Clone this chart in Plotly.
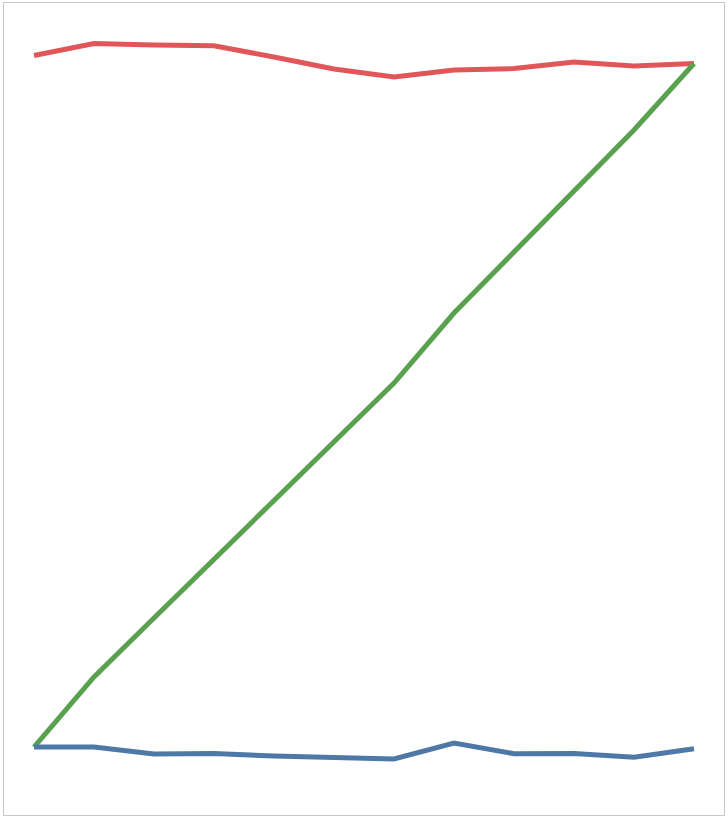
import plotly.graph_objects as go

# twelve evenly spaced periods, no labels shown in the reference
periods = list(range(12))

upper = [93.53, 95.01, 94.83, 94.74, 93.35, 91.87, 90.89, 91.75, 91.93, 92.73, 92.24, 92.55]
lower = [8.37, 8.37, 7.51, 7.57, 7.27, 7.08, 6.90, 8.87, 7.55, 7.57, 7.11, 8.17]
cumulative = [8.37, 17.0, 24.26, 31.53, 38.67, 45.94, 53.2, 61.82, 69.33, 76.85, 84.36, 92.55]

fig = go.Figure()
fig.add_trace(go.Scatter(x=periods, y=upper, mode="lines",
                         line=dict(color="#e15759", width=5)))
fig.add_trace(go.Scatter(x=periods, y=cumulative, mode="lines",
                         line=dict(color="#59a14f", width=5)))
fig.add_trace(go.Scatter(x=periods, y=lower, mode="lines",
                         line=dict(color="#4e79a7", width=5)))

axis_style = dict(showgrid=False, zeroline=False, showticklabels=False,
                  ticks="", showline=True, mirror=True,
                  linecolor="#c8c8c8", linewidth=1)

fig.update_layout(
    width=728,
    height=821,
    showlegend=False,
    plot_bgcolor="white",
    paper_bgcolor="white",
    margin=dict(l=4, r=4, t=3, b=6),
    xaxis=dict(range=[-0.5, 11.5], **axis_style),
    yaxis=dict(range=[0, 100], **axis_style),
)

# drop the page's default body margin so the figure sits at the window corner
fig.write_html("out.html", config={"displayModeBar": False},
               post_script="document.body.style.margin='0';")
